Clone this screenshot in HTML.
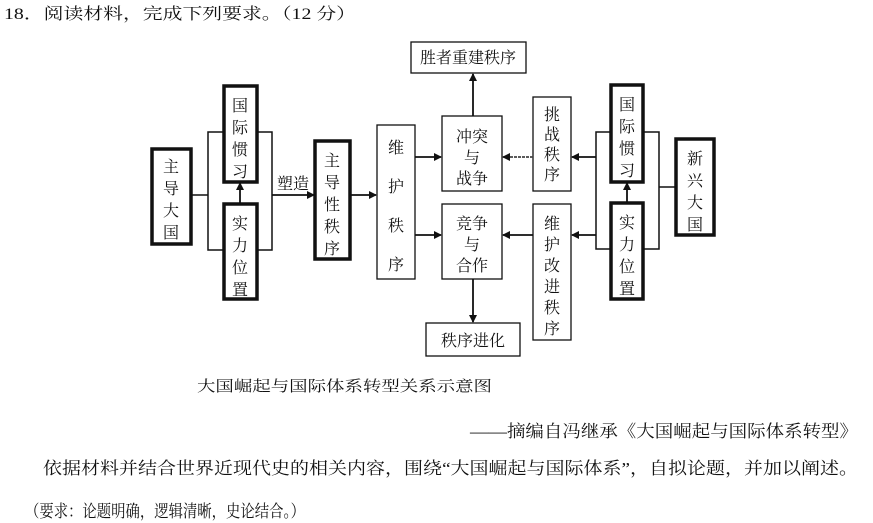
<!DOCTYPE html>
<html><head><meta charset="utf-8"><style>
html,body{margin:0;padding:0;background:#fff;}
svg{display:block;}
text{font-family:"Liberation Serif","Noto Serif CJK SC","Noto Sans CJK SC",serif;fill:#111;}
</style></head><body>
<svg width="873" height="523" viewBox="0 0 873 523" xmlns="http://www.w3.org/2000/svg">
<defs><marker id="a" markerWidth="8" markerHeight="8" refX="7" refY="4" orient="auto" markerUnits="userSpaceOnUse"><path d="M0,0 L8,4 L0,8 z" fill="#111"/></marker></defs>
<text x="4" y="19" font-size="16" textLength="352" lengthAdjust="spacingAndGlyphs">18．阅读材料，完成下列要求。（12 分）</text>
<g fill="none" stroke="#111">
<rect x="152" y="149" width="39" height="95" stroke-width="3.5"/>
<rect x="224" y="86" width="33" height="96" stroke-width="3.5"/>
<rect x="224" y="204" width="33" height="95" stroke-width="3.5"/>
<rect x="315" y="141" width="35" height="118" stroke-width="3.5"/>
<rect x="377" y="125" width="38" height="154" stroke-width="1.3"/>
<rect x="411" y="42" width="115" height="31" stroke-width="1.3"/>
<rect x="442" y="116" width="60" height="75" stroke-width="1.3"/>
<rect x="442" y="204" width="60" height="75" stroke-width="1.3"/>
<rect x="426" y="323" width="94" height="33" stroke-width="1.3"/>
<rect x="533" y="97" width="38" height="94" stroke-width="1.3"/>
<rect x="533" y="204" width="38" height="136" stroke-width="1.3"/>
<rect x="611" y="85" width="32" height="97" stroke-width="3.5"/>
<rect x="611" y="203" width="32" height="96" stroke-width="3.5"/>
<rect x="676" y="139" width="38" height="96" stroke-width="3.5"/>
<g stroke-width="1.5">
<path d="M192,195 H208 M224,132 H208 V250 H224 M257,132 H272 V250 H257"/>
<path d="M659,187 H676 M643,132 H659 V249 H643 M611,132 H596 V249 H611"/>
</g>
<g stroke-width="1.8" marker-end="url(#a)">
<path d="M240,204 V183"/>
<path d="M627,203 V183"/>
<path d="M272,195 H314"/>
<path d="M350,195 H376"/>
<path d="M415,157 H441"/>
<path d="M415,235 H441"/>
<path d="M473,116 V74"/>
<path d="M473,279 V322"/>
<path d="M533,157 H503" stroke="#444" stroke-dasharray="3,1"/>
<path d="M533,235 H503"/>
<path d="M596,157 H572"/>
<path d="M596,235 H572"/>
</g>
</g>
<g font-size="16" text-anchor="middle">
<text x="171" y="172">主</text><text x="171" y="194">导</text><text x="171" y="216">大</text><text x="171" y="238">国</text>
<text x="240" y="111">国</text><text x="240" y="133">际</text><text x="240" y="155">惯</text><text x="240" y="177">习</text>
<text x="240" y="229">实</text><text x="240" y="251">力</text><text x="240" y="273">位</text><text x="240" y="295">置</text>
<text x="293" y="189">塑造</text>
<text x="332" y="166">主</text><text x="332" y="188">导</text><text x="332" y="210">性</text><text x="332" y="232">秩</text><text x="332" y="254">序</text>
<text x="396" y="153">维</text><text x="396" y="192">护</text><text x="396" y="231">秩</text><text x="396" y="270">序</text>
<text x="468" y="63">胜者重建秩序</text>
<text x="472" y="142">冲突</text><text x="472" y="163">与</text><text x="472" y="184">战争</text>
<text x="472" y="229">竞争</text><text x="472" y="250">与</text><text x="472" y="271">合作</text>
<text x="473" y="346">秩序进化</text>
<text x="552" y="120">挑</text><text x="552" y="140">战</text><text x="552" y="160">秩</text><text x="552" y="180">序</text>
<text x="552" y="229">维</text><text x="552" y="250">护</text><text x="552" y="271">改</text><text x="552" y="292">进</text><text x="552" y="313">秩</text><text x="552" y="334">序</text>
<text x="627" y="110">国</text><text x="627" y="132">际</text><text x="627" y="154">惯</text><text x="627" y="176">习</text>
<text x="627" y="228">实</text><text x="627" y="250">力</text><text x="627" y="272">位</text><text x="627" y="294">置</text>
<text x="695" y="164">新</text><text x="695" y="186">兴</text><text x="695" y="208">大</text><text x="695" y="230">国</text>
</g>
<text x="197" y="391" font-size="15" textLength="295" lengthAdjust="spacingAndGlyphs">大国崛起与国际体系转型关系示意图</text>
<text x="470" y="437" font-size="17" textLength="388" lengthAdjust="spacingAndGlyphs">——摘编自冯继承《大国崛起与国际体系转型》</text>
<text x="43" y="474" font-size="17" textLength="815" lengthAdjust="spacingAndGlyphs">依据材料并结合世界近现代史的相关内容，围绕“大国崛起与国际体系”，自拟论题，并加以阐述。</text>
<text x="25" y="517" font-size="17" textLength="280" lengthAdjust="spacingAndGlyphs">（要求：论题明确，逻辑清晰，史论结合。）</text>
</svg>
</body></html>
